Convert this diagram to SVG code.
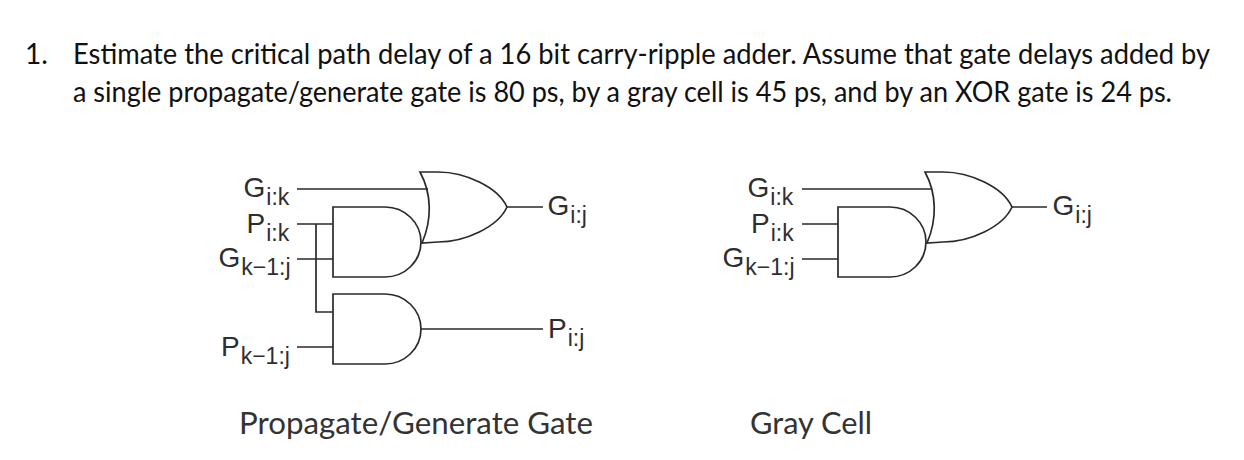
<svg xmlns="http://www.w3.org/2000/svg" width="1244" height="460" viewBox="0 0 1244 460">
<style>
.t{font-family:"Lato","Open Sans",sans-serif;font-size:28px;fill:#111}
.c{font-family:"Lato","Open Sans",sans-serif;font-size:30px;fill:#333}
.l{font-family:"Liberation Sans",Arial,sans-serif;font-size:28px;fill:#2e2e2e}
.s{font-size:23px}
.g{fill:none;stroke:#2a2a2a;stroke-width:1.7}
.w{fill:none;stroke:#2a2a2a;stroke-width:1.7}
</style>
<defs>
<path id="and" class="g" d="M0 0H52A36 35 0 0 1 52 70H0Z"/>
<path id="or" class="g" d="M0 0H18C45 0 78 15 87 35C78 55 45 70 18 70L2 71C12 48 12 22 0 0Z"/>
</defs>
<rect width="1244" height="460" fill="#fff"/>
<g id="question">
<text class="t" x="25" y="64">1.</text>
<text class="t" x="73" y="64" textLength="1137" lengthAdjust="spacingAndGlyphs">Estimate the critical path delay of a 16 bit carry-ripple adder. Assume that gate delays added by</text>
<text class="t" x="73" y="102" textLength="1099" lengthAdjust="spacingAndGlyphs">a single propagate/generate gate is 80 ps, by a gray cell is 45 ps, and by an XOR gate is 24 ps.</text>
</g>
<g id="connectors">
<path class="w" d="M297 189H428M297 224H333M297 259H333M316 224V312H333M297 347H333M507 207H543M421 329H543"/>
<path class="w" d="M802 189H932M802 224H838M802 259H838M1012 207H1047"/>
</g>
<g id="pg-or"><use href="#or" x="420" y="172"/></g>
<g id="pg-and1"><use href="#and" x="333" y="207"/></g>
<g id="pg-and2"><use href="#and" x="333" y="294"/></g>
<g id="gray-or"><use href="#or" x="925" y="172"/></g>
<g id="gray-and"><use href="#and" x="838" y="207"/></g>
<g id="pg-labels">
<text class="l" x="243.5" y="197">G<tspan class="s" dx="1" dy="8">i:k</tspan></text>
<text class="l" x="246.5" y="233">P<tspan class="s" dx="1" dy="8">i:k</tspan></text>
<text class="l" x="218.5" y="267">G<tspan class="s" dx="1" dy="8">k−1:j</tspan></text>
<text class="l" x="221" y="356">P<tspan class="s" dx="1" dy="8">k−1:j</tspan></text>
<text class="l" x="547.5" y="215">G<tspan class="s" dx="1" dy="8">i:j</tspan></text>
<text class="l" x="548" y="338">P<tspan class="s" dx="1" dy="8">i:j</tspan></text>
</g>
<g id="gray-labels">
<text class="l" x="747.5" y="197">G<tspan class="s" dx="1" dy="8">i:k</tspan></text>
<text class="l" x="751" y="233">P<tspan class="s" dx="1" dy="8">i:k</tspan></text>
<text class="l" x="722.5" y="267">G<tspan class="s" dx="1" dy="8">k−1:j</tspan></text>
<text class="l" x="1052.5" y="215">G<tspan class="s" dx="1" dy="8">i:j</tspan></text>
</g>
<g id="captions">
<text class="c" x="239" y="434" textLength="354" lengthAdjust="spacingAndGlyphs">Propagate/Generate Gate</text>
<text class="c" x="750" y="434" textLength="122" lengthAdjust="spacingAndGlyphs">Gray Cell</text>
</g>
</svg>
